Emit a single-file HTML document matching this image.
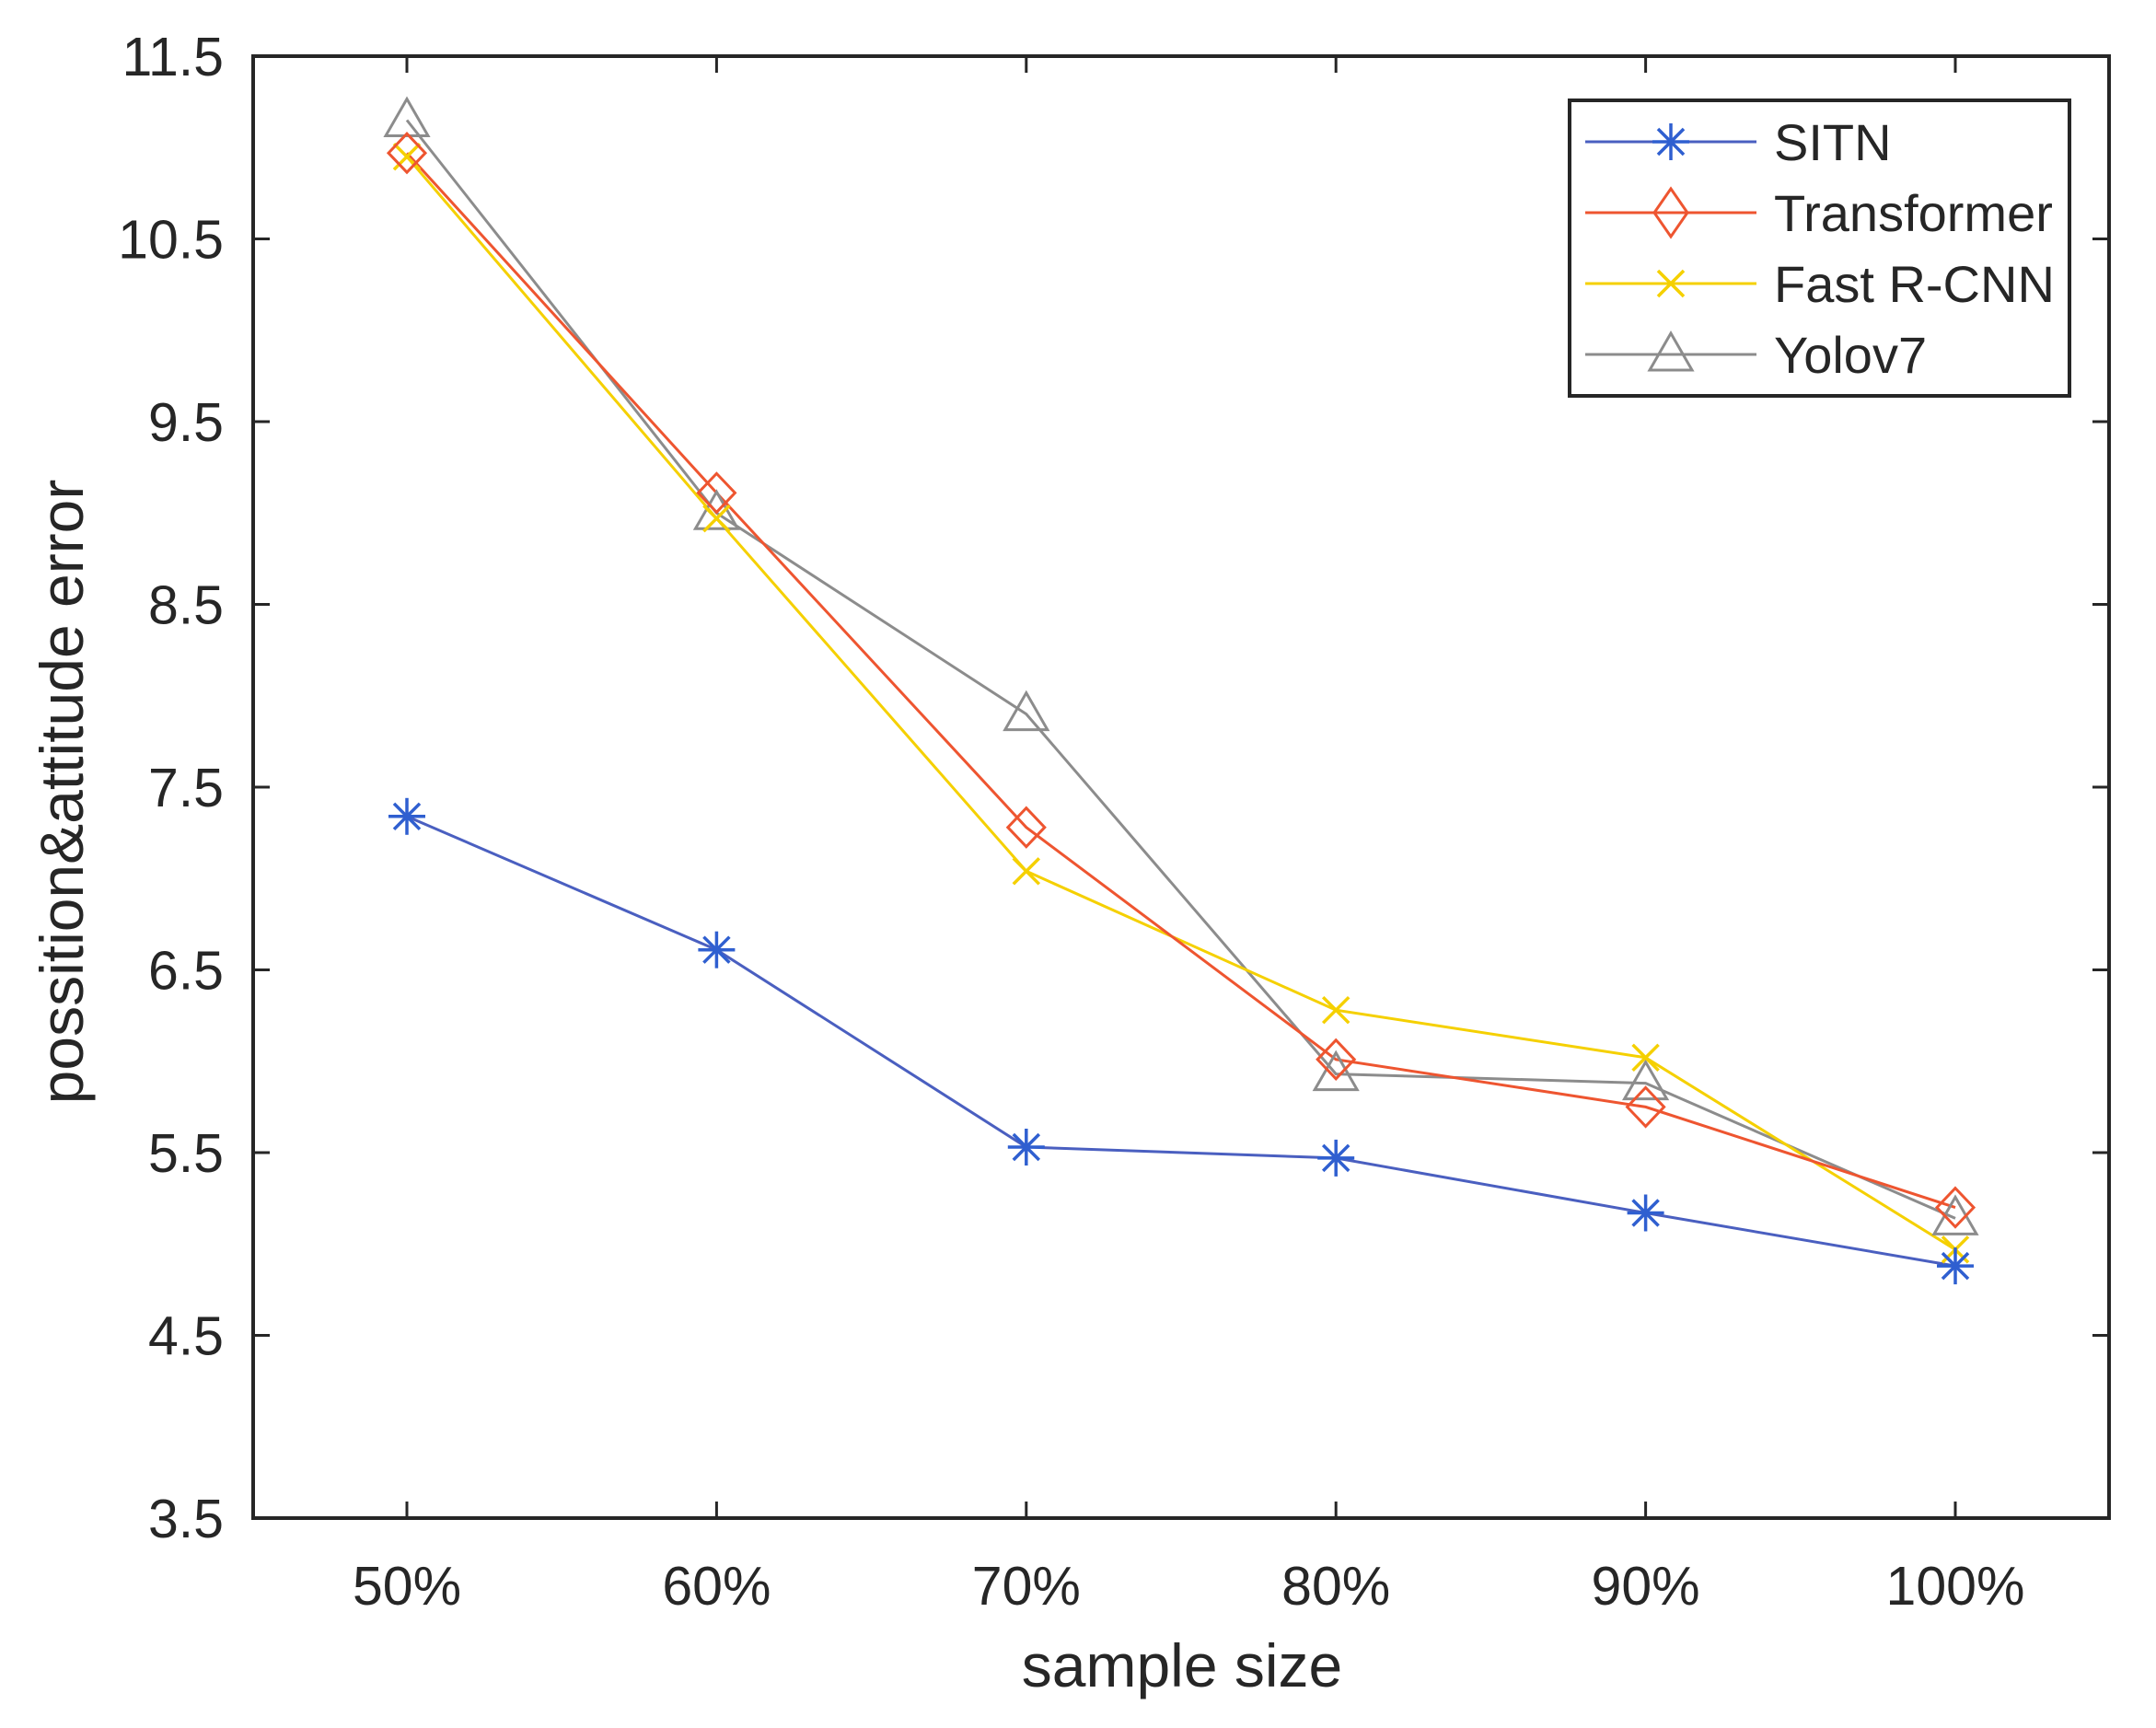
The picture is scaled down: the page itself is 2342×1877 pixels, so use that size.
<!DOCTYPE html>
<html><head><meta charset="utf-8"><style>
html,body{margin:0;padding:0;background:#fff;}
svg{display:block;}
text{font-family:"Liberation Sans",Arial,sans-serif;fill:#262626;}
</style></head><body>
<svg width="2342" height="1877" viewBox="0 0 2342 1877" xmlns="http://www.w3.org/2000/svg">
<defs>
<g id="star" stroke-width="3.5" stroke-linecap="butt"><line x1="-20" y1="0" x2="20" y2="0"/><line x1="0" y1="-20" x2="0" y2="20"/><line x1="-14" y1="-14" x2="14" y2="14"/><line x1="-14" y1="14" x2="14" y2="-14"/></g>
<polygon id="dia" points="0,-21 20,0 0,21 -20,0" fill="none" stroke-width="3"/>
<polygon id="tri" points="0,-23 23,17 -23,17" fill="none" stroke-width="3"/>
<g id="xm" stroke-width="3.5"><line x1="-14" y1="-14" x2="14" y2="14"/><line x1="-14" y1="14" x2="14" y2="-14"/></g>
</defs>
<rect width="2342" height="1877" fill="#fff"/>
<!-- axes box -->
<rect x="275" y="61" width="2016" height="1588" fill="none" stroke="#262626" stroke-width="4"/>
<g stroke="#262626" stroke-width="3">
<line x1="442" y1="1649" x2="442" y2="1631"/><line x1="778.4" y1="1649" x2="778.4" y2="1631"/><line x1="1114.8" y1="1649" x2="1114.8" y2="1631"/><line x1="1451.2" y1="1649" x2="1451.2" y2="1631"/><line x1="1787.6" y1="1649" x2="1787.6" y2="1631"/><line x1="2124" y1="1649" x2="2124" y2="1631"/>
<line x1="442" y1="61" x2="442" y2="79"/><line x1="778.4" y1="61" x2="778.4" y2="79"/><line x1="1114.8" y1="61" x2="1114.8" y2="79"/><line x1="1451.2" y1="61" x2="1451.2" y2="79"/><line x1="1787.6" y1="61" x2="1787.6" y2="79"/><line x1="2124" y1="61" x2="2124" y2="79"/>
<line x1="275" y1="259.5" x2="293" y2="259.5"/><line x1="275" y1="458" x2="293" y2="458"/><line x1="275" y1="656.5" x2="293" y2="656.5"/><line x1="275" y1="855" x2="293" y2="855"/><line x1="275" y1="1053.5" x2="293" y2="1053.5"/><line x1="275" y1="1252" x2="293" y2="1252"/><line x1="275" y1="1450.5" x2="293" y2="1450.5"/>
<line x1="2291" y1="259.5" x2="2273" y2="259.5"/><line x1="2291" y1="458" x2="2273" y2="458"/><line x1="2291" y1="656.5" x2="2273" y2="656.5"/><line x1="2291" y1="855" x2="2273" y2="855"/><line x1="2291" y1="1053.5" x2="2273" y2="1053.5"/><line x1="2291" y1="1252" x2="2273" y2="1252"/><line x1="2291" y1="1450.5" x2="2273" y2="1450.5"/>
</g>
<g font-size="59" text-anchor="end">
<text x="243" y="82">11.5</text><text x="243" y="280.5">10.5</text><text x="243" y="479">9.5</text><text x="243" y="677.5">8.5</text><text x="243" y="876">7.5</text><text x="243" y="1074.5">6.5</text><text x="243" y="1273">5.5</text><text x="243" y="1471.5">4.5</text><text x="243" y="1670">3.5</text>
</g>
<g font-size="59" text-anchor="middle">
<text x="442" y="1743">50%</text><text x="778.4" y="1743">60%</text><text x="1114.8" y="1743">70%</text><text x="1451.2" y="1743">80%</text><text x="1787.6" y="1743">90%</text><text x="2124" y="1743">100%</text>
</g>
<text x="1284" y="1832" font-size="66" text-anchor="middle">sample size</text>
<text transform="translate(90,860) rotate(-90)" font-size="66" text-anchor="middle">possition&amp;attitude error</text>

<!-- series -->
<polyline fill="none" stroke="#8c8c8c" stroke-width="3" points="442,130.5 778.4,557.3 1114.8,775.6 1451.2,1166.6 1787.6,1176.6 2124,1323.4"/>
<polyline fill="none" stroke="#f5d000" stroke-width="3" points="442,170.2 778.4,563.2 1114.8,946.3 1451.2,1097.2 1787.6,1148.8 2124,1357.3"/>
<polyline fill="none" stroke="#ee5530" stroke-width="3" points="442,166.2 778.4,535.4 1114.8,898.7 1451.2,1150.8 1787.6,1202.4 2124,1311.6"/>
<polyline fill="none" stroke="#4a5fc0" stroke-width="3" points="442,886.8 778.4,1031.7 1114.8,1246 1451.2,1257.9 1787.6,1317.5 2124,1375.1"/>

<g stroke="#8c8c8c">
<use href="#tri" x="442" y="130.5"/><use href="#tri" x="778.4" y="557.3"/><use href="#tri" x="1114.8" y="775.6"/><use href="#tri" x="1451.2" y="1166.6"/><use href="#tri" x="1787.6" y="1176.6"/><use href="#tri" x="2124" y="1323.4"/>
</g>
<g stroke="#f5d000">
<use href="#xm" x="442" y="170.2"/><use href="#xm" x="778.4" y="563.2"/><use href="#xm" x="1114.8" y="946.3"/><use href="#xm" x="1451.2" y="1097.2"/><use href="#xm" x="1787.6" y="1148.8"/><use href="#xm" x="2124" y="1357.3"/>
</g>
<g stroke="#ee5530">
<use href="#dia" x="442" y="166.2"/><use href="#dia" x="778.4" y="535.4"/><use href="#dia" x="1114.8" y="898.7"/><use href="#dia" x="1451.2" y="1150.8"/><use href="#dia" x="1787.6" y="1202.4"/><use href="#dia" x="2124" y="1311.6"/>
</g>
<g stroke="#2f5fd0">
<use href="#star" x="442" y="886.8"/><use href="#star" x="778.4" y="1031.7"/><use href="#star" x="1114.8" y="1246"/><use href="#star" x="1451.2" y="1257.9"/><use href="#star" x="1787.6" y="1317.5"/><use href="#star" x="2124" y="1375.1"/>
</g>

<!-- legend -->
<rect x="1705" y="109" width="543" height="321" fill="#fff" stroke="#262626" stroke-width="4"/>
<line x1="1722" y1="154" x2="1908" y2="154" stroke="#4a5fc0" stroke-width="3"/>
<use href="#star" x="1815" y="154" stroke="#2f5fd0"/>
<line x1="1722" y1="231" x2="1908" y2="231" stroke="#ee5530" stroke-width="3"/>
<polygon points="1815,205 1833,231 1815,257 1797,231" fill="none" stroke="#ee5530" stroke-width="3"/>
<line x1="1722" y1="308" x2="1908" y2="308" stroke="#f5d000" stroke-width="3"/>
<use href="#xm" x="1815" y="308" stroke="#f5d000"/>
<line x1="1722" y1="385" x2="1908" y2="385" stroke="#8c8c8c" stroke-width="3"/>
<use href="#tri" x="1815" y="385" stroke="#8c8c8c"/>
<g font-size="56">
<text x="1927" y="174">SITN</text>
<text x="1927" y="251">Transformer</text>
<text x="1927" y="328">Fast R-CNN</text>
<text x="1927" y="405">Yolov7</text>
</g>
</svg>
</body></html>
